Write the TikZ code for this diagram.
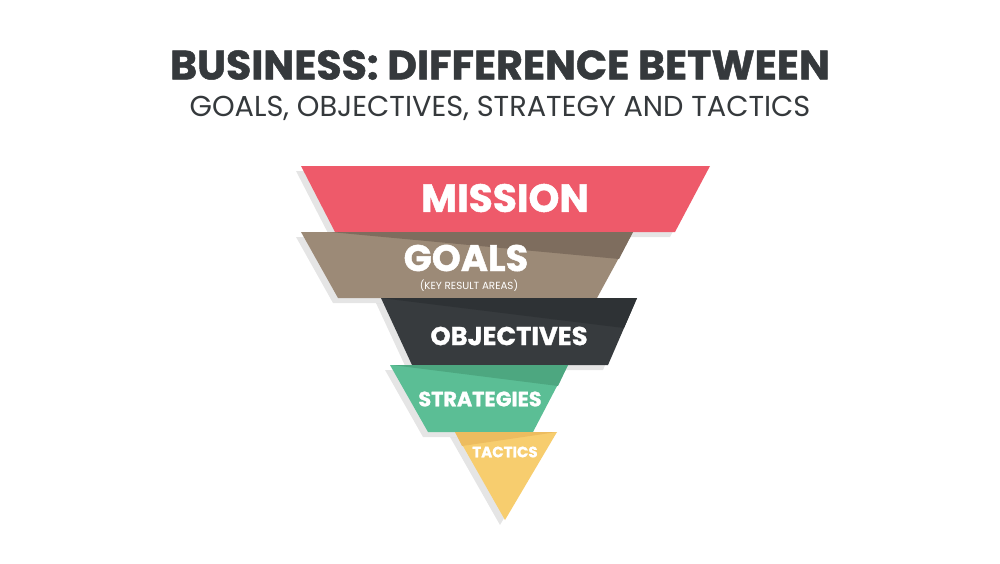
\documentclass[tikz,border=0pt]{standalone}
\usepackage{fontspec}
\setmainfont{Poppins}
\newfontfamily\heavy[FakeBold=1.2]{Poppins}
\usepackage{tikz}
\usetikzlibrary{positioning}
\definecolor{titlegray}{HTML}{35393C}
\definecolor{missionred}{HTML}{EE5A6A}
\definecolor{goalstan}{HTML}{9C8A77}
\definecolor{goalsdark}{HTML}{7E6D5E}
\definecolor{objdark}{HTML}{373B3E}
\definecolor{objdeep}{HTML}{2E3235}
\definecolor{stratgreen}{HTML}{5BBE95}
\definecolor{stratdark}{HTML}{4DA780}
\definecolor{tactyellow}{HTML}{F7CD6E}
\definecolor{tactdark}{HTML}{EDBC5F}
\tikzstyle{layer} = [draw=none]
\tikzstyle{shade} = [fill=black,opacity=0.1]
\tikzstyle{label} = [text=white,inner sep=0pt]

\begin{document}
\begin{tikzpicture}[x=0.3mm,y=-0.3mm]
	\def \sx {-5}
	\def \sy {5}
	\useasboundingbox [fill=white] (0,0) rectangle (1000,563);
	\begin{scope}
		
		% title
		\node (title) at (500,65) [text=titlegray,font=\fontsize{35}{36}\selectfont\heavy\bfseries,inner sep=0pt] {BUSINESS: DIFFERENCE BETWEEN};
		\node (subtitle) at (500,108) [text=titlegray,font=\fontsize{24.6}{25}\selectfont,inner sep=0pt] {GOALS, OBJECTIVES, STRATEGY AND TACTICS};
		
		% shadows
		\fill [shade] (301+\sx,166+\sy) -- (710+\sx,166+\sy) -- (675+\sx,232+\sy) -- (335+\sx,232+\sy) -- cycle;
		\fill [shade] (301+\sx,232+\sy) -- (633+\sx,232+\sy) -- (597+\sx,298+\sy) -- (338+\sx,298+\sy) -- cycle;
		\fill [shade] (381+\sx,298+\sy) -- (637+\sx,298+\sy) -- (608+\sx,365+\sy) -- (412+\sx,365+\sy) -- cycle;
		\fill [shade] (390+\sx,365+\sy) -- (568+\sx,365+\sy) -- (533+\sx,432+\sy) -- (428+\sx,432+\sy) -- cycle;
		\fill [shade] (455+\sx,432+\sy) -- (557+\sx,432+\sy) -- (505+\sx,520+\sy) -- cycle;
		
		% layers
		\fill [layer,missionred] (301,166) -- (710,166) -- (675,232) -- (335,232) -- cycle;
		\fill [layer,goalstan] (301,232) -- (633,232) -- (597,298) -- (338,298) -- cycle;
		\fill [layer,goalsdark] (330,232) -- (633,232) -- (619,259) -- cycle;
		\fill [layer,objdark] (381,298) -- (637,298) -- (608,365) -- (412,365) -- cycle;
		\fill [layer,objdeep] (381,298) -- (637,298) -- (624,328) -- cycle;
		\fill [layer,stratgreen] (390,365) -- (568,365) -- (533,432) -- (428,432) -- cycle;
		\fill [layer,stratdark] (392,365) -- (568,365) -- (558,386) -- cycle;
		\fill [layer,tactyellow] (455,432) -- (557,432) -- (505,520) -- cycle;
		\fill [layer,tactdark] (455,432) -- (557,432) -- (462,446) -- cycle;
		
		% labels
		\node (mission) at (505,198) [label,font=\fontsize{33.5}{34}\selectfont\heavy\bfseries] {MISSION};
		\node (goals) at (466,258) [label,font=\fontsize{31.5}{32}\selectfont\heavy\bfseries] {GOALS};
		\node (kra) at (469,286) [label,font=\fontsize{8.8}{9}\selectfont] {(KEY RESULT AREAS)};
		\node (objectives) at (509,336) [label,font=\fontsize{22}{23}\selectfont\heavy\bfseries] {OBJECTIVES};
		\node (strategies) at (480,399) [label,font=\fontsize{17.7}{18}\selectfont\heavy\bfseries] {STRATEGIES};
		\node (tactics) at (505,452) [label,font=\fontsize{12.8}{13}\selectfont\heavy\bfseries] {TACTICS};
	\end{scope}
\end{tikzpicture}
\end{document}
